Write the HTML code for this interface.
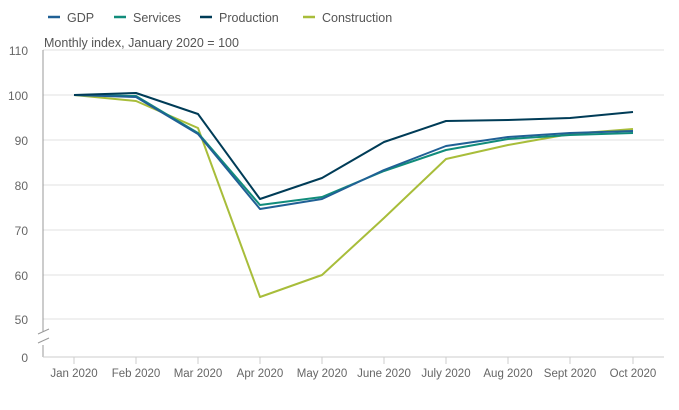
<!DOCTYPE html><html><head><style>body{margin:0;background:#fff;font-family:"Liberation Sans",sans-serif}</style></head><body>
<svg width="679" height="405" xmlns="http://www.w3.org/2000/svg" font-family="Liberation Sans, sans-serif">
<g font-size="12.5" fill="#555">
<line x1="48" y1="17" x2="60" y2="17" stroke="#206095" stroke-width="2.5"/><text x="67" y="22">GDP</text>
<line x1="114" y1="17" x2="126" y2="17" stroke="#118c7b" stroke-width="2.5"/><text x="133" y="22">Services</text>
<line x1="200" y1="17" x2="212" y2="17" stroke="#003c57" stroke-width="2.5"/><text x="219" y="22">Production</text>
<line x1="303" y1="17" x2="315" y2="17" stroke="#a8bd3a" stroke-width="2.5"/><text x="322" y="22">Construction</text>
<text x="44" y="47">Monthly index, January 2020 = 100</text>
</g>
<g stroke="#e0e0e0" stroke-width="1">
<line x1="43" y1="50" x2="664" y2="50"/><line x1="43" y1="95" x2="664" y2="95"/><line x1="43" y1="140" x2="664" y2="140"/><line x1="43" y1="185" x2="664" y2="185"/><line x1="43" y1="230" x2="664" y2="230"/><line x1="43" y1="275" x2="664" y2="275"/><line x1="43" y1="319" x2="664" y2="319"/>
</g>
<g font-size="12" fill="#666" text-anchor="end">
<text x="28" y="55">110</text><text x="28" y="100">100</text><text x="28" y="145">90</text><text x="28" y="190">80</text><text x="28" y="235">70</text><text x="28" y="280">60</text><text x="28" y="324">50</text><text x="28" y="362">0</text>
</g>
<line x1="43" y1="50" x2="43" y2="332" stroke="#999"/>
<line x1="43" y1="345" x2="43" y2="357" stroke="#999"/>
<line x1="38" y1="334" x2="49" y2="329" stroke="#999"/><line x1="38" y1="343" x2="49" y2="338" stroke="#999"/>
<line x1="43" y1="357" x2="664" y2="357" stroke="#ccc"/>
<g stroke="#ccc"><line x1="74" y1="357" x2="74" y2="364"/><line x1="136" y1="357" x2="136" y2="364"/><line x1="198" y1="357" x2="198" y2="364"/><line x1="260" y1="357" x2="260" y2="364"/><line x1="322" y1="357" x2="322" y2="364"/><line x1="384" y1="357" x2="384" y2="364"/><line x1="446" y1="357" x2="446" y2="364"/><line x1="508" y1="357" x2="508" y2="364"/><line x1="570" y1="357" x2="570" y2="364"/><line x1="633" y1="357" x2="633" y2="364"/></g>
<g font-size="11.5" fill="#666" text-anchor="middle">
<text x="74" y="377">Jan 2020</text><text x="136" y="377">Feb 2020</text><text x="198" y="377">Mar 2020</text><text x="260" y="377">Apr 2020</text><text x="322" y="377">May 2020</text><text x="384" y="377">June 2020</text><text x="446" y="377">July 2020</text><text x="508" y="377">Aug 2020</text><text x="570" y="377">Sept 2020</text><text x="633" y="377">Oct 2020</text>
</g>
<g fill="none" stroke-width="2" stroke-linejoin="round">
<polyline stroke="#a8bd3a" points="74,95 136,101 198,128 260,297 322,275 384,218 446,159 508,145 570,134 633,129"/>
<polyline stroke="#118c7b" points="74,95 136,96 198,133 260,205 322,197 384,171 446,150 508,139 570,135 633,133"/>
<polyline stroke="#206095" points="74,95 136,97 198,134 260,209 322,199 384,170 446,146 508,137 570,133 633,131"/>
<polyline stroke="#003c57" points="74,95 136,93 198,114 260,199 322,178 384,142 446,121 508,120 570,118 633,112"/>
</g>
</svg>
</body></html>
